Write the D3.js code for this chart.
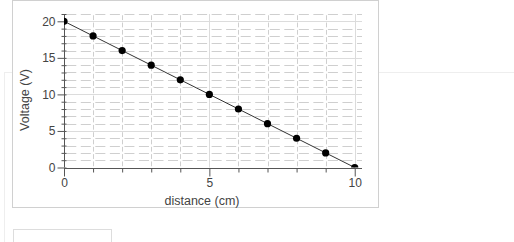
<!DOCTYPE html>
<html>
<head>
<meta charset="utf-8">
<script src="https://cdn.jsdelivr.net/npm/d3@7"></script>
<style>
  html, body { margin: 0; padding: 0; background: #fff; }
  svg { display: block; font-family: "Liberation Sans", Arial, sans-serif; }
</style>
</head>
<body>
<div id="chart"></div>
<script>
// data
const distance = [0, 1, 2, 3, 4, 5, 6, 7, 8, 9, 10];
const voltage = [20, 18, 16, 14, 12, 10, 8, 6, 4, 2, 0];
const xTickLabels = [0, 5, 10];
const yTickLabels = [0, 5, 10, 15, 20];
const xTitle = "distance (cm)";
const yTitle = "Voltage (V)";

const width = 514, height = 242;

const svg = d3.select("#chart")
  .append("svg")
  .attr("width", width)
  .attr("height", height);

// page furniture behind the chart
svg.append("line")
  .attr("x1", 4.5).attr("x2", 4.5).attr("y1", 72).attr("y2", height)
  .attr("stroke", "#eee");
svg.append("line")
  .attr("x1", 4).attr("x2", width).attr("y1", 72.5).attr("y2", 72.5)
  .attr("stroke", "#eee");
svg.append("rect")
  .attr("x", 12.5).attr("y", 0.5).attr("width", 366).attr("height", 207)
  .attr("fill", "#fff").attr("stroke", "#d0d0d0");
svg.append("rect")
  .attr("x", 13.5).attr("y", 229.5).attr("width", 98).attr("height", 30)
  .attr("fill", "#fff").attr("stroke", "#ddd");

const xScale = d3.scaleLinear().domain([0, 10.25]).range([64, 362]);
const yScale = d3.scaleLinear().domain([0, 21]).range([167.5, 14]);

const g = svg.append("g");

// grid: dashed every unit, solid every 5
const xGrid = d3.range(1, 11);
const yGrid = d3.range(1, 22);
const cellX = xScale(1) - xScale(0);
const cellY = yScale(0) - yScale(1);
const gridColor = "#cfcfcf";

g.append("g")
  .selectAll("line")
  .data(yGrid)
  .join("line")
  .attr("x1", xScale(0)).attr("x2", xScale(10.25))
  .attr("y1", d => Math.round(yScale(d)) + 0.5)
  .attr("y2", d => Math.round(yScale(d)) + 0.5)
  .attr("stroke", d => d % 5 === 0 ? "#dcdcdc" : gridColor)
  .attr("stroke-dasharray", d => d % 5 === 0 ? null : `${cellX / 2 - 4.5},4.5`)
  .attr("stroke-dashoffset", cellX / 2 - 2.25);
g.append("g")
  .selectAll("line")
  .data(xGrid)
  .join("line")
  .attr("x1", d => Math.round(xScale(d)) + 0.5)
  .attr("x2", d => Math.round(xScale(d)) + 0.5)
  .attr("y1", yScale(21)).attr("y2", yScale(0))
  .attr("stroke", d => d % 5 === 0 ? "#dcdcdc" : gridColor)
  .attr("stroke-dasharray", d => d % 5 === 0 ? null : `${cellY - 2.5},2.5`)
  .attr("stroke-dashoffset", cellY - 1.25);

// axes
const axisColor = "#555";
const yAxis = g.append("g")
  .attr("transform", `translate(${Math.round(xScale(0)) + 0.5},0)`)
  .call(d3.axisLeft(yScale).tickValues(d3.range(0, 22)).tickSize(3)
    .tickFormat(d => yTickLabels.includes(d) ? d : ""));
yAxis.select(".domain").attr("d", `M0,${yScale(21)}V${yScale(0)}`);
yAxis.selectAll(".tick line")
  .attr("x1", 2)
  .attr("x2", d => yTickLabels.includes(d) ? -7 : -3);
yAxis.selectAll(".tick text").attr("x", -9);

const xAxis = g.append("g")
  .attr("transform", `translate(0,${Math.round(yScale(0)) + 0.5})`)
  .call(d3.axisBottom(xScale).tickValues(d3.range(0, 11)).tickSize(4)
    .tickFormat(d => xTickLabels.includes(d) ? d : ""));
xAxis.select(".domain").attr("d", `M${xScale(0)},0H${xScale(10.25)}`);
xAxis.selectAll(".tick line")
  .attr("y2", d => xTickLabels.includes(d) ? 8 : 4);
xAxis.selectAll(".tick text").attr("y", 10);

g.selectAll(".domain").attr("stroke", axisColor);
g.selectAll(".tick line").attr("stroke", axisColor);
g.selectAll(".tick text")
  .attr("fill", "#444")
  .style("font-size", "12px")
  .style("font-family", "'Liberation Sans', Arial, sans-serif");

// titles
svg.append("text")
  .attr("x", 202).attr("y", 205)
  .attr("text-anchor", "middle")
  .attr("fill", "#444")
  .style("font-size", "12.5px")
  .text(xTitle);
svg.append("text")
  .attr("transform", "translate(29,100) rotate(-90)")
  .attr("text-anchor", "middle")
  .attr("fill", "#444")
  .style("font-size", "12.5px")
  .text(yTitle);

// data, clipped to the plot area
svg.append("clipPath").attr("id", "plot")
  .append("rect")
  .attr("x", xScale(0)).attr("y", yScale(21))
  .attr("width", xScale(10.25) - xScale(0))
  .attr("height", yScale(0) - yScale(21));

const points = distance.map((d, i) => [d, voltage[i]]);
const plot = svg.append("g").attr("clip-path", "url(#plot)");
plot.append("path")
  .attr("d", d3.line().x(d => xScale(d[0])).y(d => yScale(d[1]))(points))
  .attr("fill", "none")
  .attr("stroke", "#333")
  .attr("stroke-width", 1);
plot.selectAll("circle")
  .data(points)
  .join("circle")
  .attr("cx", d => xScale(d[0]))
  .attr("cy", d => yScale(d[1]))
  .attr("r", 3.6)
  .attr("fill", "#000");
</script>
</body>
</html>
